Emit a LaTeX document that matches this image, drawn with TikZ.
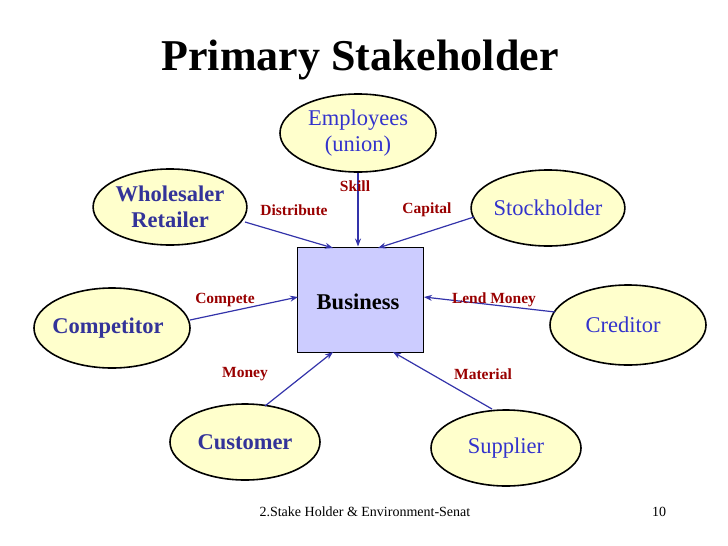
\documentclass[tikz,border=0pt]{standalone}
\usepackage{fontspec}
\setmainfont{Liberation Serif}
\usetikzlibrary{shapes.geometric,arrows.meta}
\definecolor{ell}{HTML}{FFFFCC}
\definecolor{biz}{HTML}{CCCCFF}
\definecolor{txtb}{HTML}{3333CC}
\definecolor{txtd}{HTML}{333399}
\definecolor{lab}{HTML}{990000}
\definecolor{arr}{HTML}{3333AA}
\tikzset{
  party/.style={ellipse,draw=black,line width=1.6pt,fill=ell,minimum width=#1,inner sep=0pt},
  party/.default=150pt,
  lbl/.style={text=lab,font=\fontsize{15.5}{17}\selectfont\bfseries},
  big/.style={font=\fontsize{22.5}{26}\selectfont},
  bigb/.style={font=\fontsize{22.5}{26}\selectfont\bfseries},
  conn/.style={draw=arr,line width=1.2pt,-{Stealth[length=8pt,width=6pt]}},
}
\begin{document}
\begin{tikzpicture}[x=1pt,y=-1pt]
\useasboundingbox (0,0) rectangle (728,546);
\node[font=\fontsize{44}{46}\selectfont\bfseries] (title) at (360,60) {Primary Stakeholder};
\node[party=156pt,minimum height=78pt,align=center,text=txtb,big] (emp) at (358,133) {Employees\\(union)};
\node[party,minimum height=76pt,align=center,text=txtd,bigb] (whs) at (170,207) {Wholesaler\\Retailer};
\node[party,minimum height=76pt,text=txtb,big] (stk) at (548,208) {Stockholder};
\node[party=156pt,minimum height=80pt,text=txtd,bigb] (cmp) at (112,328) {\hspace*{-8pt}Competitor};
\node[party=156pt,minimum height=80pt,text=txtb,big] (crd) at (628,325) {Creditor\hspace*{10pt}};
\node[party,minimum height=76pt,text=txtd,bigb] (cus) at (245,442) {Customer};
\node[party,minimum height=76pt,text=txtb,big] (sup) at (506,448) {Supplier};
\node[draw=black,line width=1pt,fill=biz,minimum width=126pt,minimum height=105pt] (biz) at (360,299.5) {};
\node[bigb] (biztxt) at (358,302) {Business};
\coordinate (bwh) at (333,248); \coordinate (bst) at (378,248);
\coordinate (bcm) at (298,297); \coordinate (bcr) at (424,297);
\coordinate (bcu) at (333,352); \coordinate (bsu) at (393,352);
\draw[conn] (emp.south) -- (emp.south |- biz.north);
\draw[conn] (245,222) -- (bwh);
\draw[conn] (474,217) -- (bst);
\draw[conn] (190,320) -- (bcm);
\draw[conn] (555,312) -- (bcr);
\draw[conn] (265,406) -- (bcu);
\draw[conn] (492,409) -- (bsu);
\node[lbl] (l1) at (355,186) {Skill};
\node[lbl] (l2) at (294,210) {Distribute};
\node[lbl] (l3) at (427,210) {Capital};
\node[lbl] (l4) at (225,300) {Compete};
\node[lbl] (l5) at (494,300) {Lend Money};
\node[lbl] (l6) at (245,374) {Money};
\node[lbl] (l7) at (483,374) {Material};
\node[anchor=west,font=\fontsize{14}{15}\selectfont] (ft) at (256,512) {2.Stake Holder \& Environment-Senat};
\node[font=\fontsize{14}{15}\selectfont] (pg) at (659,512) {10};
\end{tikzpicture}
\end{document}
